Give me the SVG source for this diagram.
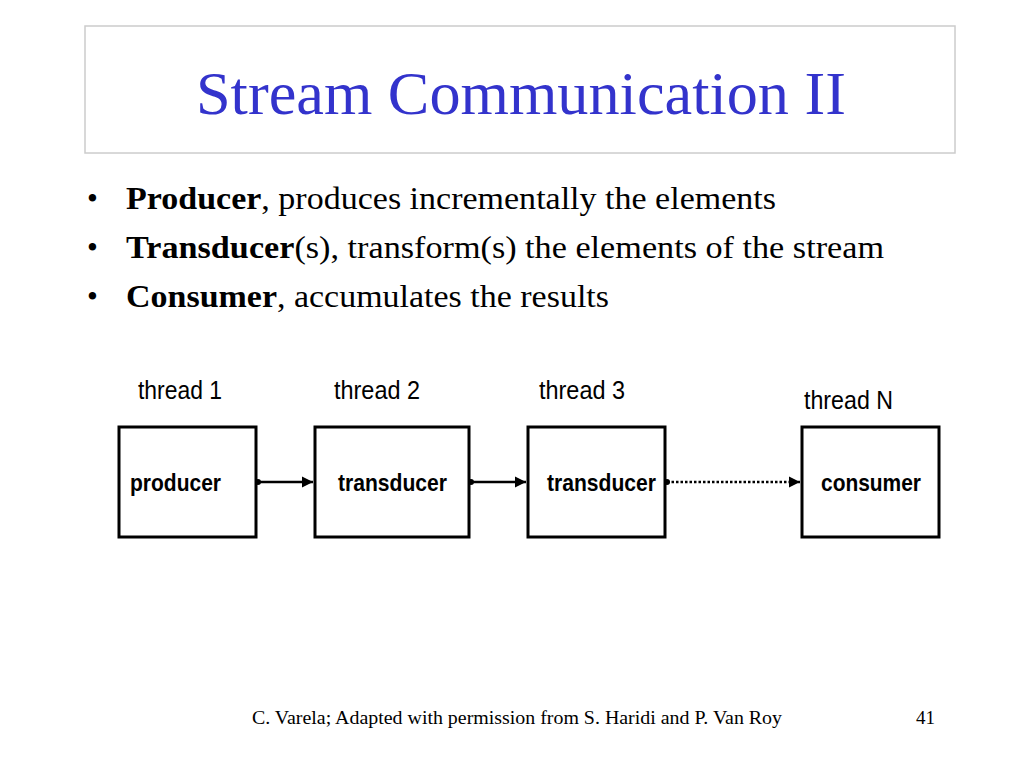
<svg xmlns="http://www.w3.org/2000/svg" width="1024" height="768" viewBox="0 0 1024 768">
<defs>
<style>
.ser{font-family:"Liberation Serif","Times New Roman",serif;fill:#000}
.lbl{font-family:"Liberation Sans",Arial,sans-serif;font-size:25px;fill:#000}
.nd{font-family:"Liberation Sans",Arial,sans-serif;font-size:24px;font-weight:bold;fill:#000}
.box{fill:#fff;stroke:#000;stroke-width:3}
.c{stroke:#000;stroke-width:2.5;fill:none}
</style>
<marker id="ah" viewBox="0 0 10 10" refX="10" refY="5" markerWidth="4.5" markerHeight="4.5" orient="auto"><path d="M0,0 L10,5 L0,10 z" fill="#000"/></marker>
<marker id="dot" viewBox="0 0 10 10" refX="5" refY="5" markerWidth="3" markerHeight="3"><circle cx="5" cy="5" r="4" fill="#000"/></marker>
</defs>
<rect width="1024" height="768" fill="#fff"/>
<rect x="85" y="26" width="870" height="127" fill="#fff" stroke="#ccc" stroke-width="1.5"/>
<text x="196" y="114" class="ser" font-size="62" textLength="650" lengthAdjust="spacingAndGlyphs" style="fill:#3333cc">Stream Communication II</text>
<g class="ser" font-size="31">
<text x="87" y="209">•</text><text x="126" y="209" textLength="650" lengthAdjust="spacingAndGlyphs"><tspan font-weight="bold">Producer</tspan>, produces incrementally the elements</text>
<text x="87" y="258">•</text><text x="126" y="258" textLength="758" lengthAdjust="spacingAndGlyphs"><tspan font-weight="bold">Transducer</tspan>(s), transform(s) the elements of the stream</text>
<text x="87" y="307">•</text><text x="126" y="307" textLength="483" lengthAdjust="spacingAndGlyphs"><tspan font-weight="bold">Consumer</tspan>, accumulates the results</text>
</g>
<g class="lbl">
<text x="138" y="399" textLength="84" lengthAdjust="spacingAndGlyphs">thread 1</text>
<text x="334" y="399" textLength="86" lengthAdjust="spacingAndGlyphs">thread 2</text>
<text x="539" y="399" textLength="86" lengthAdjust="spacingAndGlyphs">thread 3</text>
<text x="804" y="409" textLength="89" lengthAdjust="spacingAndGlyphs">thread N</text>
</g>
<g id="producer"><rect class="box" x="119" y="427" width="137" height="110"/><text class="nd" x="130" y="491" textLength="91" lengthAdjust="spacingAndGlyphs">producer</text></g>
<g id="transducer1"><rect class="box" x="315" y="427" width="154" height="110"/><text class="nd" x="338" y="491" textLength="109" lengthAdjust="spacingAndGlyphs">transducer</text></g>
<g id="transducer2"><rect class="box" x="528" y="427" width="137" height="110"/><text class="nd" x="547" y="491" textLength="109" lengthAdjust="spacingAndGlyphs">transducer</text></g>
<g id="consumer"><rect class="box" x="802" y="427" width="137" height="110"/><text class="nd" x="821" y="491" textLength="100" lengthAdjust="spacingAndGlyphs">consumer</text></g>
<g id="connectors">
<line class="c" x1="258" y1="482" x2="313" y2="482" marker-start="url(#dot)" marker-end="url(#ah)"/>
<line class="c" x1="471" y1="482" x2="526" y2="482" marker-start="url(#dot)" marker-end="url(#ah)"/>
<line class="c" x1="667" y1="482" x2="800" y2="482" stroke-dasharray="2.5,2" marker-start="url(#dot)" marker-end="url(#ah)"/>
</g>
<text x="252" y="724" class="ser" font-size="19" textLength="530" lengthAdjust="spacingAndGlyphs">C. Varela; Adapted with permission from S. Haridi and P. Van Roy</text>
<text x="916" y="724" class="ser" font-size="19">41</text>
</svg>
